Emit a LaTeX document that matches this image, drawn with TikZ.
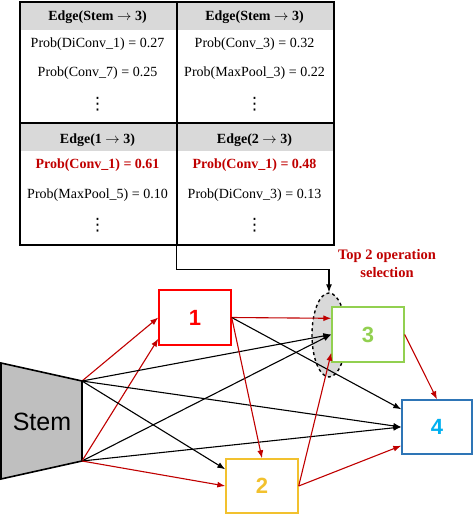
\documentclass[tikz,border=0pt]{standalone}
\usepackage{fontspec}
\setmainfont{Liberation Serif}
\setsansfont{Liberation Sans}
\newfontfamily\dotsfont{DejaVu Sans}
\usetikzlibrary{arrows.meta,shapes.geometric,calc}
\definecolor{hdrgray}{HTML}{D9D9D9}
\definecolor{stemgray}{HTML}{BFBFBF}
\definecolor{darkred}{HTML}{C00000}
\definecolor{boxred}{HTML}{FF0000}
\definecolor{boxgold}{HTML}{F2C12E}
\definecolor{boxgreen}{HTML}{92D050}
\definecolor{boxblue}{HTML}{2E75B6}
\definecolor{numblue}{HTML}{00B0F0}
\begin{document}
\begin{tikzpicture}[x=1pt,y=-1pt,
  celltxt/.style={font=\fontsize{14}{16}\selectfont, inner sep=0pt},
  dotstxt/.style={font=\dotsfont\fontsize{17}{17}\selectfont, inner sep=0pt},
  hdrtxt/.style={font=\fontsize{14}{16}\selectfont\bfseries, inner sep=0pt},
  redtxt/.style={font=\fontsize{14}{16}\selectfont\bfseries, text=darkred, inner sep=0pt},
  nodebox/.style={draw, fill=white, line width=1.4pt, minimum width=72pt, minimum height=55pt,
     font=\fontsize{22}{22}\selectfont\sffamily\bfseries, inner sep=0pt},
  blk/.style={-{Latex[length=8pt,width=6pt]}, line width=1.1pt, black},
  red/.style={-{Latex[length=8pt,width=6pt]}, line width=1.1pt, darkred}
]
\useasboundingbox (0,0) rectangle (474,517);
% table
\fill[hdrgray] (19,1) rectangle (333,30);
\fill[hdrgray] (19,123) rectangle (333,151);
\node[draw, line width=1.6pt, minimum width=314pt, minimum height=243pt, anchor=north west, inner sep=0pt] (tbl) at (19,1) {};
\draw[line width=1.6pt] (tbl.north) -- (tbl.south);
\draw[line width=1.6pt] (19,123) -- (333,123);
% top-left cell
\node[hdrtxt] (h1) at (97.5,17) {Edge(Stem $\rightarrow$ 3)};
\node[celltxt] (a1) at (97.5,44) {Prob(DiConv\_1) = 0.27};
\node[celltxt] (a2) at (97.5,73) {Prob(Conv\_7) = 0.25};
\node[dotstxt] (a3) at (97.5,104) {⋮};
% top-right cell
\node[hdrtxt] (h2) at (254.5,17) {Edge(Stem $\rightarrow$ 3)};
\node[celltxt] (b1) at (254.5,44) {Prob(Conv\_3) = 0.32};
\node[celltxt] (b2) at (254.5,73) {Prob(MaxPool\_3) = 0.22};
\node[dotstxt] (b3) at (254.5,104) {⋮};
% bottom-left cell
\node[hdrtxt] (h3) at (97.5,140) {Edge(1 $\rightarrow$ 3)};
\node[redtxt] (c1) at (97.5,165) {Prob(Conv\_1) = 0.61};
\node[celltxt] (c2) at (97.5,195) {Prob(MaxPool\_5) = 0.10};
\node[dotstxt] (c3) at (97.5,225) {⋮};
% bottom-right cell
\node[hdrtxt] (h4) at (254.5,140) {Edge(2 $\rightarrow$ 3)};
\node[redtxt] (d1) at (254.5,165) {Prob(Conv\_1) = 0.48};
\node[celltxt] (d2) at (254.5,195) {Prob(DiConv\_3) = 0.13};
\node[dotstxt] (d3) at (254.5,225) {⋮};
% selection ellipse
\node[ellipse, draw, dashed, line width=1.4pt, fill=hdrgray, minimum width=34pt, minimum height=84pt, inner sep=0pt] (sel) at (329,335) {};
\node[redtxt, align=center, font=\fontsize{14.5}{18}\selectfont\bfseries] (toplbl) at (387,264) {Top 2 operation\\selection};
\draw[blk] (tbl.south) -- ++(0,24) -| (sel.north);
% stem
\fill[stemgray] (1,363) -- (82,381) -- (82,461) -- (1,479) -- cycle;
\draw[line width=1.6pt] (1,363) -- (82,381) -- (82,461) -- (1,479) -- cycle;
\coordinate (st) at (82,381);
\coordinate (sb) at (82,461);
\node[font=\fontsize{25}{25}\selectfont\sffamily, inner sep=0pt] (stem) at (42,422) {Stem};
% boxes
\node[nodebox, draw=boxred, text=boxred] (n1) at (195,317.5) {1};
\node[nodebox, draw=boxgold, text=boxgold, minimum height=54pt] (n2) at (262,486) {2};
\node[nodebox, draw=boxgreen, text=boxgreen] (n3) at (368,334.5) {3};
\node[nodebox, draw=boxblue, text=numblue, minimum width=70pt, minimum height=54pt] (n4) at (437,427) {4};
% arrows from stem
\draw[red] (st) -- (n1.west);
\draw[red] (sb) -- ($(n1.south west)+(0,-7)$);
\draw[blk] (st) -- (n3.west);
\draw[blk] (sb) -- (n3.west);
\draw[blk] (st) -- (n4.west);
\draw[blk] (sb) -- (n4.west);
\draw[blk] (st) -- ($(n2.north west)+(0,11)$);
\draw[red] (sb) -- (n2.west);
% arrows from 1
\draw[red] (n1.east) -- ($(n3.north west)+(0,12)$);
\draw[blk] (n1.east) -- ($(n4.north west)+(0,10)$);
\draw[red] (n1.east) -- (n2.north);
% arrows from 2
\draw[red] (n2.east) -- ($(n3.south west)+(0,-10)$);
\draw[red] (n2.east) -- ($(n4.south west)+(0,-9)$);
% arrow from 3
\draw[red] (n3.east) -- (n4.north);
\end{tikzpicture}
\end{document}
